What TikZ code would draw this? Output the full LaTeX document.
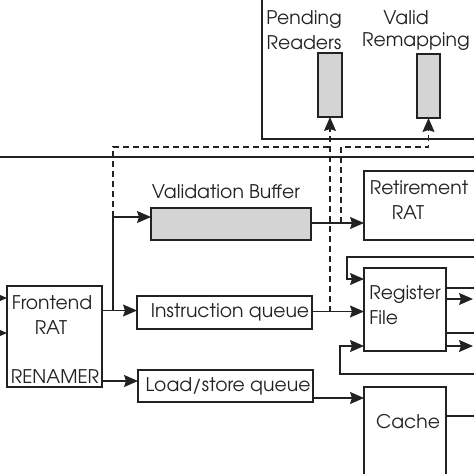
\documentclass[tikz,border=0pt]{standalone}
\usepackage{fontspec}
\setmainfont{TeX Gyre Adventor}
\usetikzlibrary{arrows.meta,calc}
\definecolor{ink}{HTML}{222222}
\definecolor{bar}{HTML}{D4D4D4}
\begin{document}
\begin{tikzpicture}[x=1pt,y=-1pt,line width=1.3pt,draw=ink,
  every node/.style={font=\fontsize{18.8}{25}\selectfont,text=ink},
  box/.style={draw=ink,rectangle,inner sep=0pt,outer sep=0pt,anchor=north west},
  barbox/.style={box,fill=bar},
  txt/.style={inner sep=0pt,outer sep=0pt},
  arr/.style={draw=ink,-{Stealth[length=14pt,width=12pt,inset=2pt]}},
  dsh/.style={draw=ink,dash pattern=on 6pt off 4pt},
  darr/.style={arr,dash pattern=on 6pt off 4pt}]
\useasboundingbox (0,0) rectangle (474,474);
\clip (0,0) rectangle (474,474);
% boxes
\node[box,minimum width=240pt,minimum height=159pt] (top) at (262,-20) {};
\node[barbox,minimum width=24pt,minimum height=64pt] (pr) at (318,53) {};
\node[barbox,minimum width=23pt,minimum height=64pt] (vr) at (417,54) {};
\node[barbox,minimum width=160pt,minimum height=32pt] (vb) at (151,208) {};
\node[box,minimum width=140pt,minimum height=69pt] (rat) at (364,171) {};
\node[box,minimum width=82pt,minimum height=83pt] (rf) at (364,268) {};
\node[box,minimum width=82pt,minimum height=120pt] (cache) at (364,387) {};
\node[box,minimum width=175pt,minimum height=33pt] (iq) at (137,296) {};
\node[box,minimum width=175pt,minimum height=32pt] (lsq) at (138,370) {};
\node[box,minimum width=95pt,minimum height=101pt] (fe) at (7,286) {};
% labels
\node[txt,align=center] (prl) at (304,30) {Pending\\Readers};
\node[txt] (vrl1) at (406,18) {Valid};
\node[txt] (vrl2) at (416,42) {Remapping};
\node[txt] (vbl) at (226,192) {Validation Buffer};
\node[txt] (ratl1) at (419,188) {Retirement};
\node[txt] (ratl2) at (408,213) {RAT};
\node[txt,align=left] (rfl) at (405,305) {Register\\File};
\node[txt] (cachel) at (408,422) {Cache};
\node[txt] (iql) at (230,312) {Instruction queue};
\node[txt] (lsql) at (228,386) {Load/store queue};
\node[txt] (fel1) at (52,303) {Frontend};
\node[txt] (fel2) at (51,328) {RAT};
\node[txt] (fel3) at (55,377) {RENAMER};
% separator
\draw (-5,157) -- (480,157);
% helper coordinates
\coordinate (dy) at ($(top.south)+(0,8)$);
\coordinate (a1) at ($(iq.west)+(0,-2)$);
\coordinate (j1) at ($(fe.east |- a1)+(11,0)$);
\coordinate (a2) at ($(vb.west)+(0,-7)$);
\coordinate (j2) at (j1 |- a2);
\coordinate (a3) at ($(iq.east)+(0,-1)$);
\coordinate (a4) at ($(vb.east)+(0,-1)$);
\coordinate (k) at ($(a4)+(30,0)$);
\coordinate (a5) at ($(fe.south east)+(0,-6)$);
\coordinate (a6) at ($(lsq.south east)+(0,-4)$);
% solid connectors
\draw[arr] (fe.east |- a1) -- (a1);
\draw[arr] (j1) -- (j2) -- (a2);
\draw[arr] (a4) -- (rat.west |- a4);
\draw[arr] (a3) -- (rf.west |- a3);
\draw[arr] (a5) -- (lsq.west |- a5);
\draw[arr] (a6) -- (cache.west |- a6);
% dashed connectors
\draw[dsh] (j2) -- (j2 |- dy) -- (pr.south |- dy);
\draw[darr] (pr.south |- a3) -- (pr.south);
\draw[darr] (k) -- (k |- dy) -- (vr.south |- dy) -- (vr.south);
% register file loops
\coordinate (l1) at (480,257);
\coordinate (l1in) at ($(rf.north west)+(0,11)$);
\draw[arr] (l1) -- (347,257) |- (l1in);
\coordinate (l2) at (480,374);
\coordinate (l2in) at ($(rf.south west)+(0,-5)$);
\draw[arr] (l2) -- (340,374) |- (l2in);
% register file outputs
\coordinate (o1) at ($(rf.north east)+(0,20)$);
\coordinate (o2) at ($(rf.north east)+(0,31)$);
\coordinate (o3) at ($(rf.south east)+(0,-18)$);
\coordinate (o4) at ($(rf.south east)+(0,-5)$);
\draw (o1) -- (480,288);
\draw[arr] (o2) -- (473,299);
\draw (o3) -- (480,333);
\draw[arr] (o4) -- (473,346);
\coordinate (c1) at ($(cache.north east)+(0,29)$);
\draw (c1) -- (480,416);
% inputs to frontend
\coordinate (i1) at ($(fe.north west)+(0,12)$);
\coordinate (i2) at ($(fe.north west)+(0,47)$);
\draw[arr] (-20,298) -- (i1);
\draw[arr] (-20,333) -- (i2);
\end{tikzpicture}
\end{document}
